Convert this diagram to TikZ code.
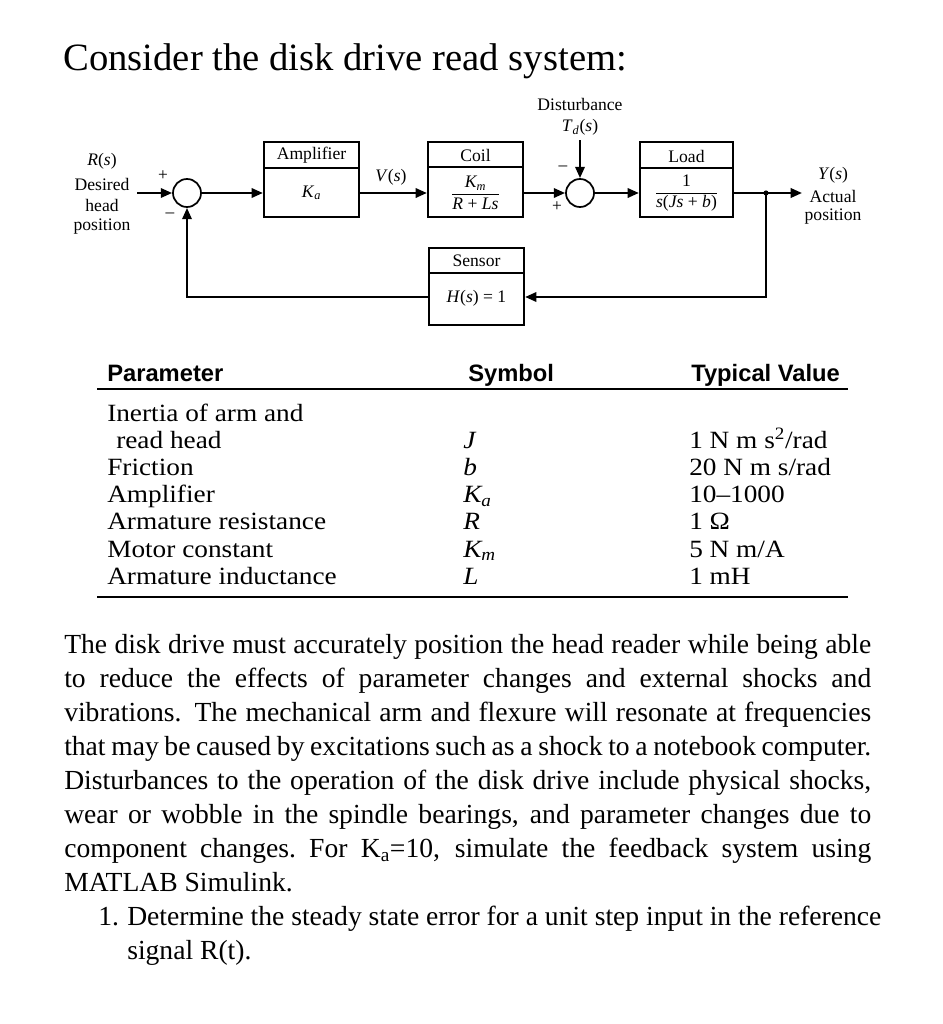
\documentclass[tikz,border=0pt]{standalone}
\usepackage{fontspec}
\setmainfont{Liberation Serif}
\newfontfamily\tabfont[FakeStretch=1.1]{Liberation Serif}
\newfontfamily\hdfont{Liberation Sans}
\usetikzlibrary{arrows.meta}
\begin{document}
\begin{tikzpicture}[x=0.75pt,y=-0.75pt,
  blk/.style={draw, line width=1.6pt, minimum width=71.25pt, minimum height=56.25pt, inner sep=0pt},
  sig/.style={line width=1.8pt, -{Triangle[length=8.5pt,width=7pt]}},
  sumj/.style={circle, draw, line width=1.3pt, minimum size=21pt, inner sep=0pt},
  dlab/.style={font=\fontsize{13.2}{14}\selectfont, inner sep=0pt},
  sgn/.style={font=\fontsize{13}{14}\selectfont, inner sep=0pt},
  ttl/.style={font=\fontsize{29}{34}\selectfont, inner sep=0pt, anchor=base west},
  hd/.style={font=\hdfont\bfseries\fontsize{17.8}{20}\selectfont, inner sep=0pt, anchor=base west},
  tb/.style={font=\tabfont\fontsize{18.6}{20}\selectfont, inner sep=0pt, anchor=base west},
  par/.style={font=\fontsize{20.7}{25}\selectfont, inner sep=0pt, anchor=base west},
  rule/.style={line width=1.4pt}
]
\useasboundingbox[fill=white] (0,0) rectangle (942,1024);

% title
\node[ttl] (title) at (63,70) {Consider the disk drive read system:};

% ---- block diagram ----
\node[sumj] (s1) at (187,193) {};
\node[sumj] (s2) at (580,193) {};
\node[blk] (amp) at (311.5,179.5) {};
\node[blk] (coil) at (475.5,179.5) {};
\node[blk, minimum width=69.75pt] (load) at (686.5,179.5) {};
\node[blk, minimum height=57.75pt] (sens) at (476.5,286.5) {};
\draw[line width=1.3pt] (264,168) -- (359,168);
\draw[line width=1.3pt] (428,167) -- (523,167);
\draw[line width=1.3pt] (640,168) -- (733,168);
\draw[line width=1.3pt] (429,273) -- (524,273);

\node[dlab] (ampt) at (311.5,155) {Amplifier};
\node[dlab] (ampk) at (311.5,193) {\textit{K}\textsubscript{\textit{a}}};
\node[dlab] (coilt) at (475.5,155) {Coil};
\node[dlab] (coilf) at (475.5,193) {$\displaystyle\frac{\hbox{\itshape K\textsubscript{m}}}{\hbox{\itshape R \upshape+ \itshape Ls}}$};
\node[dlab] (loadt) at (686.5,156) {Load};
\node[dlab] (loadf) at (686.5,193) {$\displaystyle\frac{\hbox{1}}{\hbox{\itshape s\upshape(\itshape Js \upshape+ \itshape b\upshape)}}$};
\node[dlab] (senst) at (476.5,261) {Sensor};
\node[dlab] (sensh) at (476.5,298) {\textit{H}(\textit{s}) = 1};

\node[dlab] (rs) at (102,161) {\textit{R}(\textit{s})};
\node[dlab] (rs2) at (102,184) {Desired};
\node[dlab] (rs3) at (102,205) {head};
\node[dlab] (rs4) at (102,227) {position};
\node[dlab] (vs) at (391,177) {\textit{V}(\textit{s})};
\node[dlab] (dist) at (580,104) {Disturbance};
\node[dlab] (td) at (580,127) {\textit{T}\textsubscript{\textit{d}}(\textit{s})};
\node[dlab] (ys) at (833,175) {\textit{Y}(\textit{s})};
\node[dlab] (ys2) at (833,196) {Actual};
\node[dlab] (ys3) at (833,217) {position};

\node[sgn] (p1) at (163,176) {+};
\node[sgn] (m1) at (170,215) {\textendash};
\node[sgn] (p2) at (557,207) {+};
\node[sgn] (m2) at (563,168) {\textendash};

\coordinate (in) at (137,193);
\coordinate (out) at (802,193);
\coordinate (dot) at (766,193);
\coordinate (fbr) at (766,297);
\coordinate (fbl) at (187,297);
\coordinate (dtop) at (580,140);

\draw[sig] (in) -- (s1.west);
\draw[sig] (s1.east) -- (s1.east -| amp.west);
\draw[sig] (amp.east |- s1) -- (coil.west |- s1);
\draw[sig] (coil.east |- s2) -- (s2.west);
\draw[sig] (s2.east) -- (load.west |- s2);
\draw[sig] (load.east |- s2) -- (out);
\draw[sig] (dtop) -- (s2.north);
\fill (dot) circle (2.6);
\draw[sig] (dot) -- (fbr) -- (sens.east |- fbr);
\draw[sig] (sens.west |- fbl) -- (fbl) -- (s1.south);

% ---- table ----
\node[hd] (h1) at (107,381) {Parameter};
\node[hd] (h2) at (468,381) {Symbol};
\node[hd] (h3) at (691,381) {Typical Value};
\draw[rule] (97,389) -- (848,389);
\draw[rule] (97,597) -- (848,597);

\node[tb] (a1) at (107,421) {Inertia of arm and};
\node[tb] (a2) at (116,448.2) {read head};
\node[tb] (a3) at (107,475.4) {Friction};
\node[tb] (a4) at (107,502.6) {Amplifier};
\node[tb] (a5) at (107,529.8) {Armature resistance};
\node[tb] (a6) at (107,557) {Motor constant};
\node[tb] (a7) at (107,584.2) {Armature inductance};

\node[tb] (b2) at (463,448.2) {\itshape J};
\node[tb] (b3) at (463,475.4) {\itshape b};
\node[tb] (b4) at (463,502.6) {\itshape K\textsubscript{a}};
\node[tb] (b5) at (463,529.8) {\itshape R};
\node[tb] (b6) at (463,557) {\itshape K\textsubscript{m}};
\node[tb] (b7) at (463,584.2) {\itshape L};

\node[tb] (c2) at (689,448.2) {1 N m s\textsuperscript{2}/rad};
\node[tb] (c3) at (689,475.4) {20 N m s/rad};
\node[tb] (c4) at (689,502.6) {10\textendash1000};
\node[tb] (c5) at (689,529.8) {1 \symbol{"03A9}};
\node[tb] (c6) at (689,557) {5 N m/A};
\node[tb] (c7) at (689,584.2) {1 mH};

% ---- paragraph ----
\node[par] (l1) at (64,653) {\makebox[605.25pt][s]{The disk drive must accurately position the head reader while being able}};
\node[par] (l2) at (64,687) {\makebox[605.25pt][s]{to reduce the effects of parameter changes and external shocks and}};
\node[par] (l3) at (64,721) {\makebox[605.25pt][s]{vibrations. The mechanical arm and flexure will resonate at frequencies}};
\node[par] (l4) at (64,755) {\makebox[605.25pt][s]{that may be caused by excitations such as a shock to a notebook computer.}};
\node[par] (l5) at (64,789) {\makebox[605.25pt][s]{Disturbances to the operation of the disk drive include physical shocks,}};
\node[par] (l6) at (64,823) {\makebox[605.25pt][s]{wear or wobble in the spindle bearings, and parameter changes due to}};
\node[par] (l7) at (64,857) {\makebox[605.25pt][s]{component changes.\ For K\textsubscript{a}=10, simulate the feedback system using}};
\node[par] (l8) at (64,891) {MATLAB Simulink.};
\node[par] (n1) at (98,925) {1.};
\node[par] (l9) at (127,925) {Determine the steady state error for a unit step input in the reference};
\node[par] (l10) at (127,959) {signal R(t).};
\end{tikzpicture}
\end{document}
